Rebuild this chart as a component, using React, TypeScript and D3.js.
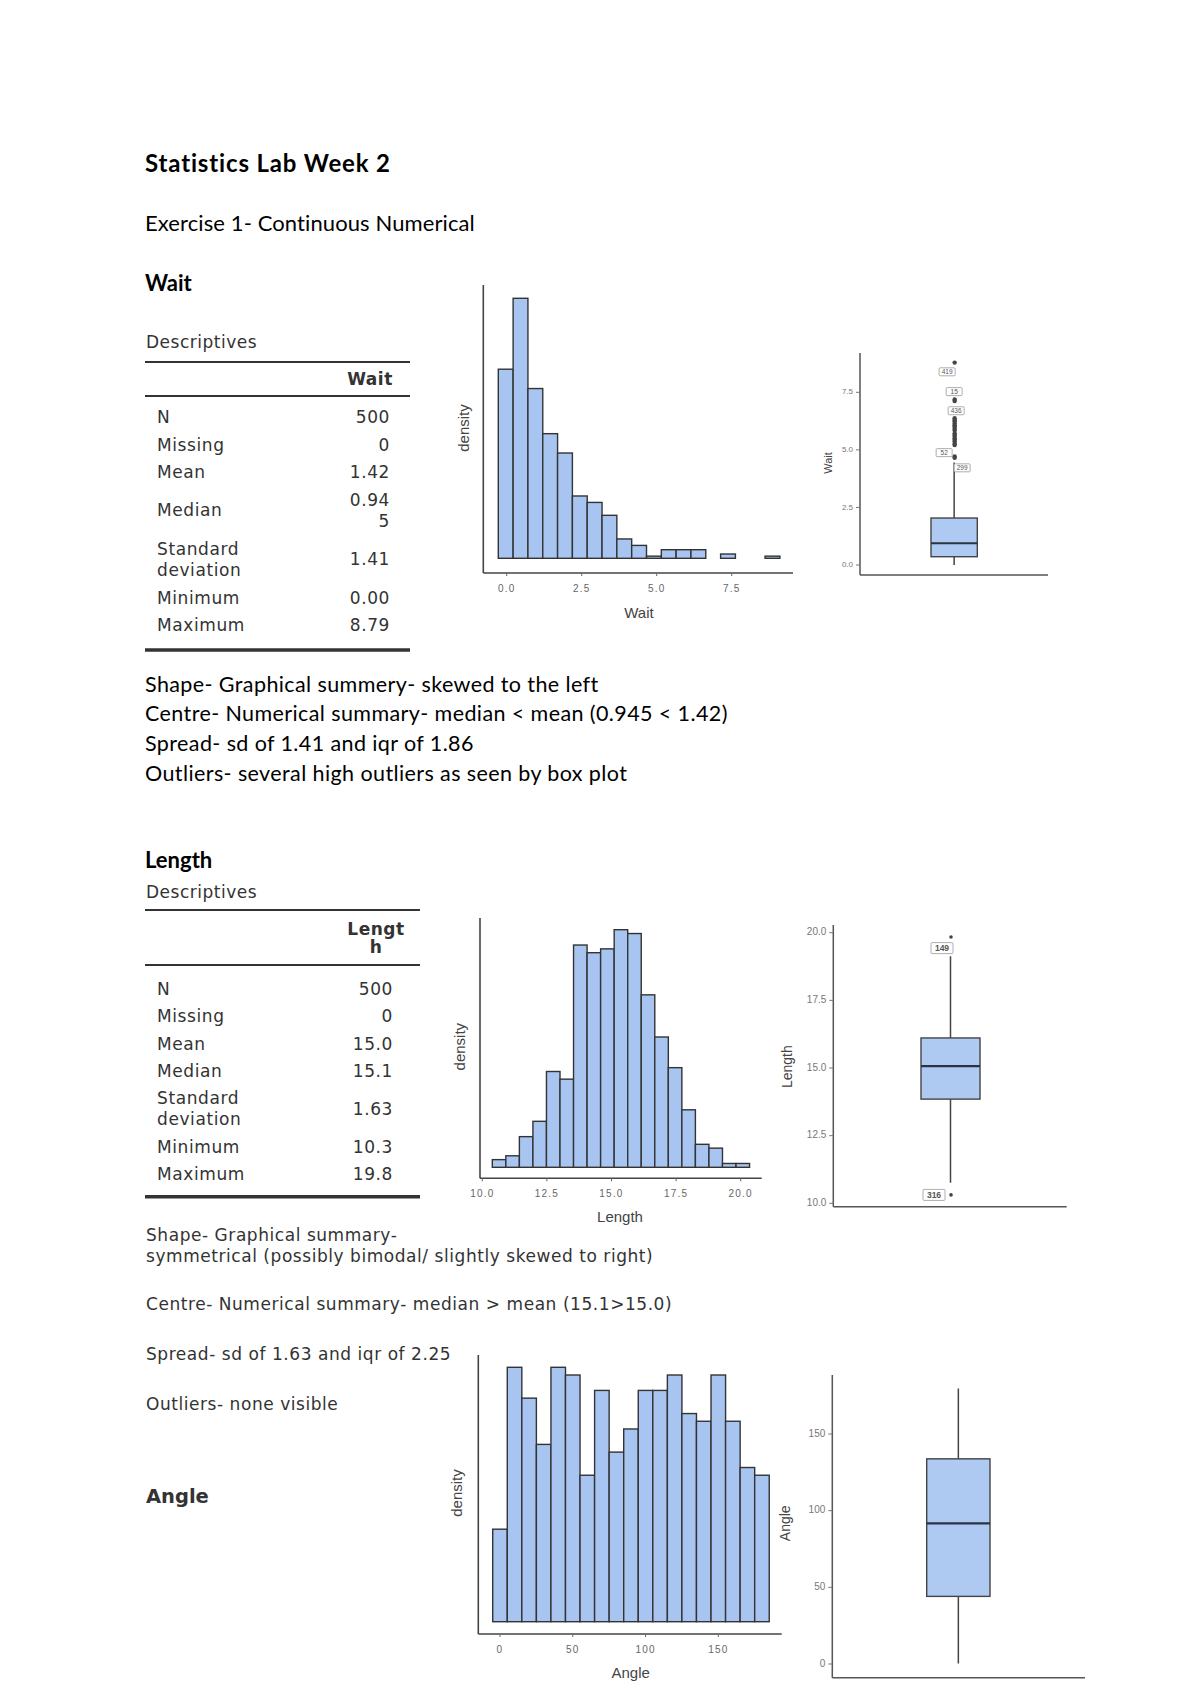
import React from "react";
import * as d3 from "d3";

// ---------- data ----------
const WAIT_COUNTS = [88, 121, 79, 58, 49, 29, 26, 20, 9, 6, 1, 4, 4, 4, 0, 2, 0, 0, 1];
const WAIT_BIN_START = -0.28;
const WAIT_BIN_WIDTH = 0.494;
const WAIT_X_TICKS = [0, 2.5, 5, 7.5];

const LENGTH_COUNTS = [2, 3, 8, 12, 25, 23, 58, 56, 57, 62, 61, 45, 34, 26, 15, 6, 5, 1, 1];
const LENGTH_BIN_START = 10.387;
const LENGTH_BIN_WIDTH = 0.524;
const LENGTH_X_TICKS = [10, 12.5, 15, 17.5, 20];

const ANGLE_COUNTS = [12, 33, 29, 23, 33, 32, 19, 30, 22, 25, 30, 30, 32, 27, 26, 32, 26, 20, 19];
const ANGLE_BIN_START = -5;
const ANGLE_BIN_WIDTH = 10;
const ANGLE_X_TICKS = [0, 50, 100, 150];

const WAIT_BOX = { lo: 0, q1: 0.36, med: 0.945, q3: 2.04, hi: 4.45 };
const WAIT_OUTLIERS = [4.66, 4.71, 5.21, 5.27, 5.36, 5.44, 5.49, 5.58, 5.66, 5.71, 5.84, 5.92, 6.0, 6.07, 6.15, 6.24, 6.3, 6.37, 7.12, 7.19, 8.79];
const WAIT_OUTLIER_LABELS = [
  { id: "419", lv: 8.39, dx: -7 },
  { id: "15", lv: 7.53, dx: 0 },
  { id: "436", lv: 6.7, dx: 2 },
  { id: "52", lv: 4.88, dx: -10 },
  { id: "299", lv: 4.22, dx: 8 },
];
const WAIT_Y_TICKS = [0, 2.5, 5, 7.5];

const LENGTH_BOX = { lo: 10.76, q1: 13.85, med: 15.07, q3: 16.11, hi: 19.13 };
const LENGTH_OUTLIERS = [19.84, 10.31];
const LENGTH_OUTLIER_LABELS = [
  { id: "149", lv: 19.43, dx: -8.5 },
  { id: "316", lv: 10.31, dx: -16.5 },
];
const LENGTH_Y_TICKS = [10, 12.5, 15, 17.5, 20];

const ANGLE_BOX = { lo: 0.4, q1: 44.1, med: 91.7, q3: 133.8, hi: 179.7 };
const ANGLE_OUTLIERS: number[] = [];
const ANGLE_Y_TICKS = [0, 50, 100, 150];

const WAIT_ROWS = [
  { label: ["N"], value: ["500"] },
  { label: ["Missing"], value: ["0"] },
  { label: ["Mean"], value: ["1.42"] },
  { label: ["Median"], value: ["0.94", "5"] },
  { label: ["Standard", "deviation"], value: ["1.41"] },
  { label: ["Minimum"], value: ["0.00"] },
  { label: ["Maximum"], value: ["8.79"] },
];
const LENGTH_ROWS = [
  { label: ["N"], value: ["500"] },
  { label: ["Missing"], value: ["0"] },
  { label: ["Mean"], value: ["15.0"] },
  { label: ["Median"], value: ["15.1"] },
  { label: ["Standard", "deviation"], value: ["1.63"] },
  { label: ["Minimum"], value: ["10.3"] },
  { label: ["Maximum"], value: ["19.8"] },
];

const WAIT_NOTES = [
  "Shape- Graphical summery- skewed to the left",
  "Centre- Numerical summary- median < mean (0.945 < 1.42)",
  "Spread- sd of 1.41 and iqr of 1.86",
  "Outliers- several high outliers as seen by box plot",
];
const LENGTH_NOTES = [
  ["Shape- Graphical summary-", "symmetrical (possibly bimodal/ slightly skewed to right)"],
  ["Centre- Numerical summary- median > mean (15.1>15.0)"],
  ["Spread- sd of 1.63 and iqr of 2.25"],
  ["Outliers- none visible"],
];

// ---------- styles ----------
const LATO = "Lato, 'Open Sans', sans-serif";
const DEJAVU = "'DejaVu Sans', Verdana, sans-serif";
const ARIAL = "'Liberation Sans', Arial, sans-serif";
const BAR_FILL = "#a7c5f0";
const BOX_FILL = "#aecaf2";
const DARK = "#333";

type HistGeo = {
  tx0: number; tx1: number; base: number; barTop: number;
  axisX: number; axisTop: number; axisY: number; axisRight: number;
  xLabelX: number; xLabelY: number; yLabelX: number; yLabelY: number;
};

function Histogram(props: {
  counts: number[]; binStart: number; binWidth: number; ticks: number[];
  fmt: (n: number) => string; geo: HistGeo; xLabel: string;
}) {
  const { counts, binStart, binWidth, ticks, fmt, geo, xLabel } = props;
  const x = d3.scaleLinear().domain([ticks[0], ticks[ticks.length - 1]]).range([geo.tx0, geo.tx1]);
  const y = d3.scaleLinear().domain([0, d3.max(counts) as number]).range([geo.base, geo.barTop]);
  return (
    <g>
      {counts.map((c, i) => {
        const a = x(binStart + i * binWidth);
        const b = x(binStart + (i + 1) * binWidth);
        return (
          <rect key={i} x={a} width={b - a} y={y(c)} height={geo.base - y(c)}
            fill={BAR_FILL} stroke={DARK} strokeWidth={1.4} />
        );
      })}
      <line x1={geo.axisX} x2={geo.axisX} y1={geo.axisTop} y2={geo.axisY} stroke="#444" strokeWidth={1.6} />
      <line x1={geo.axisX} x2={geo.axisRight} y1={geo.axisY} y2={geo.axisY} stroke="#444" strokeWidth={1.6} />
      {ticks.map((t) => (
        <g key={t}>
          <line x1={x(t)} x2={x(t)} y1={geo.axisY} y2={geo.axisY + 3} stroke="#666" strokeWidth={1} />
          <text x={x(t)} y={geo.axisY + 19} textAnchor="middle" fontFamily={ARIAL} fontSize={10}
            fill="#666" letterSpacing={1.2}>{fmt(t)}</text>
        </g>
      ))}
      <text x={geo.xLabelX} y={geo.xLabelY} textAnchor="middle" fontFamily={ARIAL} fontSize={15} fill="#444">{xLabel}</text>
      <text transform={`translate(${geo.yLabelX},${geo.yLabelY}) rotate(-90)`} textAnchor="middle"
        dominantBaseline="middle" fontFamily={ARIAL} fontSize={15} fill="#444">density</text>
    </g>
  );
}

type BoxGeo = {
  ty0: number; ty1: number; axisX: number; axisTop: number; axisY: number; axisRight: number;
  boxL: number; boxR: number; yLabelX: number; yLabelY: number; tickSize: number; labelSize: number;
  outlierR: number; noteSize: number; noteW: number; noteH: number; noteBold: boolean;
};

function BoxPlot(props: {
  stats: { lo: number; q1: number; med: number; q3: number; hi: number };
  outliers: number[]; labels: { id: string; lv: number; dx: number }[];
  ticks: number[]; fmt: (n: number) => string; geo: BoxGeo; yLabel: string;
}) {
  const { stats, outliers, labels, ticks, fmt, geo, yLabel } = props;
  const y = d3.scaleLinear().domain([ticks[0], ticks[ticks.length - 1]]).range([geo.ty0, geo.ty1]);
  const cx = (geo.boxL + geo.boxR) / 2;
  return (
    <g>
      <line x1={geo.axisX} x2={geo.axisX} y1={geo.axisTop} y2={geo.axisY} stroke="#555" strokeWidth={1.5} />
      <line x1={geo.axisX} x2={geo.axisRight} y1={geo.axisY} y2={geo.axisY} stroke="#555" strokeWidth={1.5} />
      {ticks.map((t) => (
        <g key={t}>
          <line x1={geo.axisX - 4} x2={geo.axisX} y1={y(t)} y2={y(t)} stroke="#777" strokeWidth={1} />
          <text x={geo.axisX - 7} y={y(t)} textAnchor="end" dominantBaseline="middle" fontFamily={ARIAL}
            fontSize={geo.tickSize} fill="#777">{fmt(t)}</text>
        </g>
      ))}
      <text transform={`translate(${geo.yLabelX},${geo.yLabelY}) rotate(-90)`} textAnchor="middle"
        dominantBaseline="middle" fontFamily={ARIAL} fontSize={geo.labelSize} fill="#444">{yLabel}</text>
      <line x1={cx} x2={cx} y1={y(stats.lo)} y2={y(stats.hi)} stroke="#444" strokeWidth={1.5} />
      <rect x={geo.boxL} width={geo.boxR - geo.boxL} y={y(stats.q3)} height={y(stats.q1) - y(stats.q3)}
        fill={BOX_FILL} stroke="#444" strokeWidth={1.4} />
      <line x1={geo.boxL} x2={geo.boxR} y1={y(stats.med)} y2={y(stats.med)} stroke="#2a3340" strokeWidth={2.2} />
      {outliers.map((o, i) => (
        <circle key={i} cx={cx + 0.5} cy={y(o)} r={geo.outlierR} fill="#444" />
      ))}
      {labels.map((l) => (
        <g key={l.id}>
          <rect x={cx + l.dx - geo.noteW / 2} y={y(l.lv) - geo.noteH / 2} width={geo.noteW} height={geo.noteH}
            fill="#fff" stroke="#999" strokeWidth={0.8} rx={1} />
          <text x={cx + l.dx} y={y(l.lv)} textAnchor="middle" dominantBaseline="central" fontFamily={ARIAL}
            fontSize={geo.noteSize} fontWeight={geo.noteBold ? 700 : 400} fill="#555">{l.id}</text>
        </g>
      ))}
    </g>
  );
}

function DescTable(props: {
  title: string; titleY: number; left: number; right: number; topY: number;
  header: string[]; headerX: number; headerY: number; midY: number;
  rows: { label: string[]; value: string[] }[]; firstY: number; rowGap: number; lineGap: number;
  labelX: number; valueX: number; bottomGap: number;
}) {
  const p = props;
  let cursor = p.firstY;
  const items: React.ReactNode[] = [];
  p.rows.forEach((r, i) => {
    if (i > 0) cursor += p.rowGap;
    const n = Math.max(r.label.length, r.value.length);
    const start = cursor;
    const span = (n - 1) * p.lineGap;
    const lStart = start + (span - (r.label.length - 1) * p.lineGap) / 2;
    const vStart = start + (span - (r.value.length - 1) * p.lineGap) / 2;
    r.label.forEach((t, j) => items.push(
      <text key={`l${i}${j}`} x={p.labelX} y={lStart + j * p.lineGap} fontFamily={DEJAVU} fontSize={17}
        letterSpacing={0.6} fill={DARK}>{t}</text>));
    r.value.forEach((t, j) => items.push(
      <text key={`v${i}${j}`} x={p.valueX} y={vStart + j * p.lineGap} textAnchor="end" fontFamily={DEJAVU}
        fontSize={17} letterSpacing={0.6} fill={DARK}>{t}</text>));
    cursor = start + span;
  });
  const bottomY = cursor + p.bottomGap;
  return (
    <g>
      <text x={p.left + 1} y={p.titleY} fontFamily={DEJAVU} fontSize={17} letterSpacing={0.5} fill="#333">{p.title}</text>
      <line x1={p.left} x2={p.right} y1={p.topY} y2={p.topY} stroke={DARK} strokeWidth={2.2} />
      {p.header.map((h, j) => (
        <text key={h} x={p.headerX} y={p.headerY + j * 18} textAnchor="middle" fontFamily={DEJAVU} fontSize={17}
          fontWeight={700} letterSpacing={0.5} fill={DARK}>{h}</text>
      ))}
      <line x1={p.left} x2={p.right} y1={p.midY} y2={p.midY} stroke={DARK} strokeWidth={2.2} />
      {items}
      <line x1={p.left} x2={p.right} y1={bottomY} y2={bottomY} stroke={DARK} strokeWidth={3.5} />
    </g>
  );
}

const f1 = d3.format(".1f");
const f0 = d3.format("d");

export default function App() {
  return (
    <svg width={1200} height={1696} style={{ position: "absolute", left: 0, top: 0, background: "#fff" }}>
      <rect x={0} y={0} width={1200} height={1696} fill="#fff" />
      {/* headings */}
      <text x={145} y={172} fontFamily={LATO} fontSize={24} fontWeight={700} letterSpacing={0.85} fill="#000">Statistics Lab Week 2</text>
      <text x={145} y={231} fontFamily={LATO} fontSize={22} letterSpacing={0.1} fill="#000">Exercise 1- Continuous Numerical</text>
      <text x={145} y={291} fontFamily={LATO} fontSize={22} fontWeight={700} fill="#000">Wait</text>

      <DescTable title="Descriptives" titleY={348} left={145} right={410} topY={362}
        header={["Wait"]} headerX={370} headerY={385} midY={396} rows={WAIT_ROWS}
        firstY={423} rowGap={27.5} lineGap={21.5} labelX={157} valueX={390} bottomGap={19} />

      <Histogram counts={WAIT_COUNTS} binStart={WAIT_BIN_START} binWidth={WAIT_BIN_WIDTH} ticks={WAIT_X_TICKS}
        fmt={f1} xLabel="Wait"
        geo={{ tx0: 506.7, tx1: 731.7, base: 558.3, barTop: 298.3, axisX: 483.3, axisTop: 285, axisY: 573,
          axisRight: 793, xLabelX: 639, xLabelY: 618, yLabelX: 465, yLabelY: 428 }} />

      <BoxPlot stats={WAIT_BOX} outliers={WAIT_OUTLIERS} labels={WAIT_OUTLIER_LABELS} ticks={WAIT_Y_TICKS}
        fmt={f1} yLabel="Wait"
        geo={{ ty0: 565, ty1: 392.3, axisX: 860, axisTop: 353, axisY: 575, axisRight: 1048, boxL: 931,
          boxR: 977.3, yLabelX: 829, yLabelY: 463, tickSize: 8, labelSize: 11, outlierR: 2.2,
          noteSize: 6.5, noteW: 16, noteH: 8, noteBold: false }} />

      {WAIT_NOTES.map((t, i) => (
        <text key={t} x={145} y={691.5 + i * 29.7} fontFamily={LATO} fontSize={21.5} letterSpacing={0.4} fill="#000">{t}</text>
      ))}

      {/* Length */}
      <text x={145} y={868} fontFamily={LATO} fontSize={22} fontWeight={700} fill="#000">Length</text>
      <DescTable title="Descriptives" titleY={898} left={145} right={420} topY={910}
        header={["Lengt", "h"]} headerX={376} headerY={935} midY={965} rows={LENGTH_ROWS}
        firstY={995} rowGap={27.3} lineGap={21} labelX={157} valueX={393} bottomGap={17} />

      <Histogram counts={LENGTH_COUNTS} binStart={LENGTH_BIN_START} binWidth={LENGTH_BIN_WIDTH}
        ticks={LENGTH_X_TICKS} fmt={f1} xLabel="Length"
        geo={{ tx0: 482.3, tx1: 740.7, base: 1167.3, barTop: 929.7, axisX: 480, axisTop: 918, axisY: 1178.3,
          axisRight: 761.7, xLabelX: 620, xLabelY: 1222, yLabelX: 460.7, yLabelY: 1046.7 }} />

      <BoxPlot stats={LENGTH_BOX} outliers={LENGTH_OUTLIERS} labels={LENGTH_OUTLIER_LABELS}
        ticks={LENGTH_Y_TICKS} fmt={f1} yLabel="Length"
        geo={{ ty0: 1203.3, ty1: 932.7, axisX: 833.3, axisTop: 925, axisY: 1206.7, axisRight: 1066.7,
          boxL: 921, boxR: 980, yLabelX: 788.3, yLabelY: 1066.7, tickSize: 10, labelSize: 14, outlierR: 1.8,
          noteSize: 8.5, noteW: 22, noteH: 11, noteBold: true }} />

      {(() => {
        const ys = [[1241, 1262], [1310], [1360], [1410]];
        return LENGTH_NOTES.map((lines, i) =>
          lines.map((t, j) => (
            <text key={t} x={146} y={ys[i][j]} fontFamily={DEJAVU} fontSize={17} letterSpacing={0.55} fill={DARK}>{t}</text>
          )));
      })()}

      {/* Angle */}
      <text x={146} y={1503} fontFamily={DEJAVU} fontSize={19.5} fontWeight={700} fill={DARK}>Angle</text>
      <Histogram counts={ANGLE_COUNTS} binStart={ANGLE_BIN_START} binWidth={ANGLE_BIN_WIDTH} ticks={ANGLE_X_TICKS}
        fmt={f0} xLabel="Angle"
        geo={{ tx0: 500, tx1: 718.3, base: 1621.7, barTop: 1367.3, axisX: 478.3, axisTop: 1355, axisY: 1634,
          axisRight: 781.7, xLabelX: 630.7, xLabelY: 1678, yLabelX: 458.3, yLabelY: 1493 }} />

      <BoxPlot stats={ANGLE_BOX} outliers={ANGLE_OUTLIERS} labels={[]} ticks={ANGLE_Y_TICKS} fmt={f0}
        yLabel="Angle"
        geo={{ ty0: 1664, ty1: 1434, axisX: 832.3, axisTop: 1375, axisY: 1677.8, axisRight: 1085, boxL: 926.7,
          boxR: 990, yLabelX: 786.7, yLabelY: 1523.3, tickSize: 10, labelSize: 14, outlierR: 1.6,
          noteSize: 8, noteW: 20, noteH: 10, noteBold: false }} />
    </svg>
  );
}
